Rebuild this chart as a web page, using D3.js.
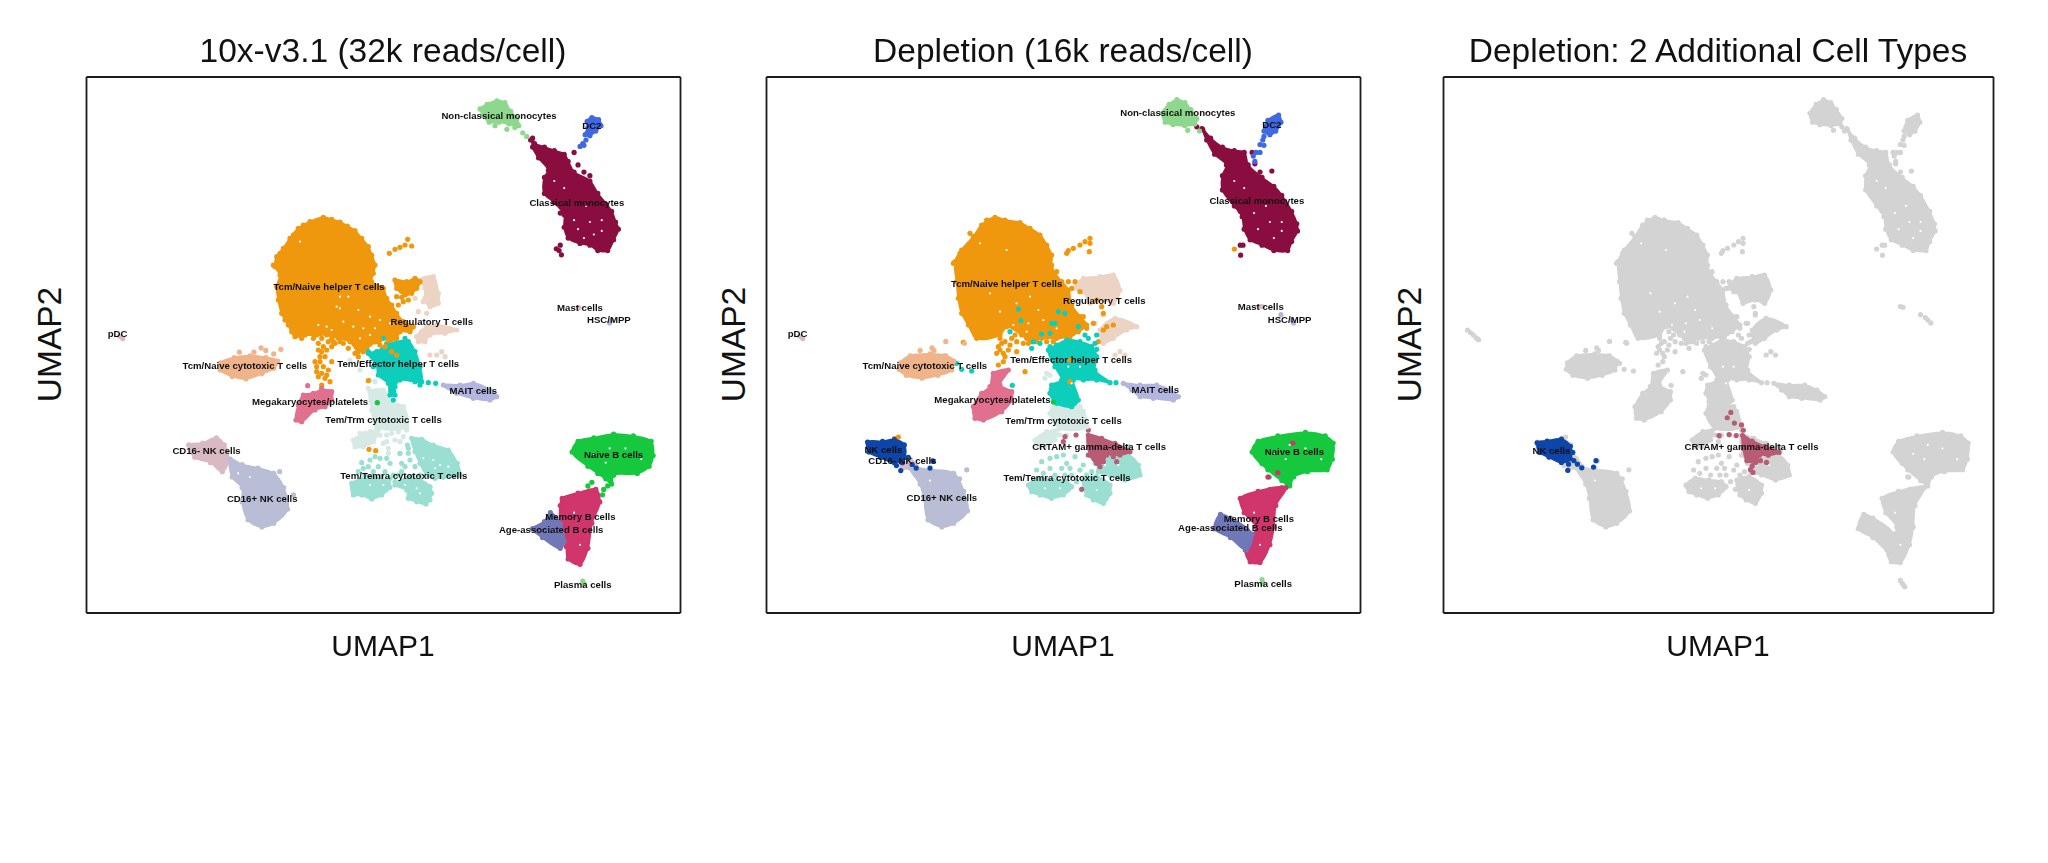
<!DOCTYPE html>
<html><head><meta charset="utf-8"><style>html,body{margin:0;padding:0;background:#fff}svg{display:block}</style>
<script src="https://cdn.jsdelivr.net/npm/d3@7"></script></head><body><svg id="c" width="2048" height="863"></svg>
<script>
// ---- data: embedding coordinates (cluster outlines, stray cells, gaps) ----
const titles=["10x-v3.1 (32k reads/cell)","Depletion (16k reads/cell)","Depletion: 2 Additional Cell Types"];
const xAxisLabel="UMAP1", yAxisLabel="UMAP2";
const colOrange="#f0980c",colMaroon="#8a0a40",colMint="#8ed88e",colBlue="#4169e1",colBlush="#ecd3c4",colPeach="#efb48a",colTeal="#10cdbb",colLav="#b2b6de",colPink="#e0708e",colPale="#d6e9e5",colAqua="#9adfd2",colRose="#d9bac2",colSlate="#b9bdd5",colGreen="#14c83c",colCrim="#d0346c",colIndigo="#7078b8",colNavy="#0a45a8",colMauve="#b85c74",colGray="#d3d3d3";

// ===== panel 1, central T-cell zone =====
const A1_orange=[[[190,22],[215,28],[240,36],[262,48],[285,62],[305,85],[325,110],[335,135],[345,165],[340,190],[335,215],[370,235],[380,265],[395,285],[410,310],[430,335],[460,350],[450,365],[420,365],[410,385],[385,395],[370,380],[345,395],[320,415],[295,425],[270,395],[235,385],[200,375],[170,375],[135,375],[105,380],[85,345],[65,310],[55,270],[50,230],[60,195],[45,170],[50,140],[70,115],[90,85],[115,55],[150,35]],
[[405,210],[440,215],[465,205],[480,215],[470,235],[455,250],[435,255],[410,235]]];
const A1_orangeDots=[[175,400],[205,395],[215,410],[185,425],[195,440],[180,455],[215,455],[170,485],[185,490],[195,505],[175,500],[210,515],[185,525],[205,480],[265,415],[250,400],[225,400],[295,440],[325,512],[443,88],[455,108],[435,105],[420,112],[405,118],[388,130],[430,275],[415,285],[360,405],[385,420],[410,440],[355,395],[380,400],[215,385],[240,395],[285,430],[310,425],[200,420],[175,420],[190,410],[170,470],[200,495],[220,395],[180,440],[190,470],[165,455],[410,260],[425,262],[445,270],[60,130],[40,165],[100,75],[130,45],[185,385],[160,385],[125,385],[95,365],[75,330]];
const A1_blush=[[[480,210],[520,200],[535,250],[535,280],[510,290],[495,265],[495,235]],[[470,380],[500,350],[530,345],[590,360],[555,370],[510,375],[495,395],[475,395]]];
const A1_blushDots=[[545,425],[530,435],[555,440],[510,435],[465,265],[490,275],[475,305],[500,310],[445,340],[485,365]];
const A1_teal=[[[325,430],[350,425],[380,405],[445,395],[465,425],[480,470],[485,515],[465,515],[420,510],[405,530],[405,555],[390,555],[385,520],[355,495],[350,465]]];
const A1_tealDots=[[505,518],[527,520],[480,525],[400,570],[345,430],[325,425],[370,385],[435,385],[340,470]];
const A1_orangeTop=[[395,425],[410,435],[375,410],[345,395],[360,390]];
const A1_lav=[[[550,525],[600,525],[640,520],[690,540],[710,560],[690,570],[640,565],[590,550]]];
const A1_pink=[[[130,555],[160,550],[185,540],[215,545],[215,570],[195,590],[165,600],[125,635],[108,630],[115,585]]];
const A1_pinkDots=[[143,527],[185,535]];
const A1_pale=[[[330,545],[370,540],[395,575],[430,590],[440,650],[350,650],[335,600]]];
const A1_paleDots=[[325,535],[330,510],[345,515],[270,450],[300,480]];
const A1_greenDots=[[352,578]];
const A1_holes=[[230,290],[240,295],[295,300],[330,320],[250,335],[200,350],[215,360],[360,330],[280,350],[310,355],[265,260],[175,345],[345,355],[120,95],[390,340],[240,260],[300,385],[330,375]];
const series_A1=[[colPale,A1_pale,A1_paleDots],[colBlush,A1_blush,A1_blushDots],[colOrange,A1_orange,A1_orangeDots],[colTeal,A1_teal,A1_tealDots],[colOrange,[],A1_orangeTop],[colLav,A1_lav,[]],[colPink,A1_pink,A1_pinkDots],[colGreen,[],A1_greenDots]];

// ===== panel 1, lower T-cell zone =====
const A3_pale=[[[100,120],[135,100],[175,90],[160,125],[130,140],[105,140]]];
const A3_paleDots=[[180,105],[200,105],[235,95],[260,90],[240,125],[200,125],[205,145],[240,160],[205,160],[225,120],[190,130],[215,100],[250,110],[120,100],[150,95]];
const A3_aqua=[[[95,250],[125,238],[165,235],[205,245],[210,262],[185,285],[155,297],[125,285],[100,285]],[[275,115],[305,118],[340,135],[385,150],[412,190],[420,225],[370,232],[345,235],[320,225],[300,190],[285,155]],[[225,255],[260,235],[300,240],[330,260],[335,280],[318,312],[290,305],[265,295],[260,270]]];
const A3_aquaDots=[[125,188],[150,180],[165,170],[180,175],[145,200],[175,200],[195,215],[220,225],[245,215],[265,160],[270,180],[240,160],[262,135],[210,190],[330,300],[115,215],[135,225],[130,205],[160,215],[185,230],[210,235],[235,225],[255,200],[265,145],[285,200],[275,230],[300,225],[200,175],[245,190],[155,230],[225,245]];
const A3_orangeDots=[[147,148],[167,152]];
const A3_holes=[[255,255],[290,265],[340,180],[310,175],[360,195],[345,205],[300,280],[150,255],[190,255],[385,200]];
const series_A3=[[colPale,A3_pale,A3_paleDots],[colAqua,A3_aqua,A3_aquaDots],[colOrange,[],A3_orangeDots]];

// ===== panel 1, remaining clusters =====
const A_maroon=[[[1145,190],[1150,205],[1175,215],[1200,225],[1225,235],[1235,255],[1250,285],[1290,310],[1310,345],[1345,395],[1355,425],[1362,445],[1350,475],[1335,505],[1310,505],[1290,490],[1265,485],[1235,470],[1225,440],[1225,405],[1200,370],[1175,345],[1175,300],[1185,280],[1160,245],[1145,215]]];
const A_maroonDots=[[1140,195],[1290,295],[1260,265],[1250,230],[1275,285],[1215,400],[1205,500],[1215,490],[1218,517],[1212,505],[1265,305],[1330,375]];
const A_mint=[[[1055,85],[1075,90],[1090,115],[1105,135],[1110,155],[1085,150],[1060,145],[1035,145],[1020,125],[1012,108],[1030,95]]];
const A_mintDots=[[1080,165],[1100,160],[1120,175],[1130,185],[1050,155]];
const A_blue=[[[1295,132],[1312,138],[1318,155],[1305,170],[1290,183],[1278,180],[1285,160],[1283,143]]];
const A_blueDots=[[1280,195],[1272,205],[1265,213],[1275,210]];
const A_peach=[[[355,820],[390,805],[430,800],[470,805],[500,815],[490,835],[460,850],[420,865],[385,858],[355,840]]];
const A_peachDots=[[403,790],[440,790],[458,778],[470,785],[508,782],[490,795]];
const A_rose=[[[275,1050],[310,1045],[345,1030],[365,1050],[375,1095],[360,1125],[330,1100],[290,1085]]];
const A_slate=[[[380,1090],[410,1105],[450,1115],[490,1130],[515,1170],[525,1230],[490,1270],[460,1280],[425,1260],[410,1210],[410,1170],[385,1140]]];
const A_slateDots=[[505,1125],[540,1190]];
const A_green=[[[1260,1040],[1300,1030],[1350,1020],[1400,1025],[1445,1040],[1450,1080],[1440,1110],[1410,1130],[1350,1135],[1345,1160],[1330,1145],[1310,1130],[1285,1110],[1245,1070]]];
const A_greenDots=[[1295,1155],[1285,1165],[1335,1165],[1325,1175],[1322,1190]];
const A_crim=[[[1220,1200],[1260,1185],[1305,1175],[1315,1210],[1295,1270],[1285,1340],[1265,1385],[1235,1370],[1230,1335],[1215,1270],[1215,1220]]];
const A_indigo=[[[1190,1240],[1215,1270],[1225,1320],[1215,1340],[1170,1310],[1145,1285],[1175,1265]]];
const A_tiny=[[colRose,[[100,745],[108,752]]],[colRose,[[1262,665]]],[colLav,[[1345,700],[1340,708]]],[colMint,[[1272,1432],[1275,1440]]]];
const A_holes=[[1290,425],[1320,420],[1260,445],[1300,460],[1250,420],[1225,330],[1200,310],[1280,380],[1320,450],[1275,470],[1330,1100],[1380,1060],[1340,1060],[1420,1090],[1300,1075],[430,1140],[400,1130],[1265,1330],[1250,1240]];
const seriesA=[[colMaroon,A_maroon,A_maroonDots],[colMint,A_mint,A_mintDots],[colBlue,A_blue,A_blueDots],[colPeach,A_peach,A_peachDots],[colRose,A_rose,[]],[colSlate,A_slate,A_slateDots],[colGreen,A_green,A_greenDots],[colCrim,A_crim,[]],[colIndigo,A_indigo,[]]];

// ===== panel 2, central T-cell zone =====
const B2_orange=[[[165,22],[195,30],[240,38],[270,55],[300,75],[320,105],[335,135],[335,165],[345,190],[365,215],[385,240],[395,285],[420,320],[440,345],[415,365],[390,380],[350,385],[305,385],[275,395],[245,375],[200,350],[180,375],[110,385],[85,345],[65,310],[55,265],[50,215],[45,155],[65,120],[100,80],[125,45]]];
const B2_orangeDots=[[180,385],[175,410],[205,420],[195,440],[175,465],[190,455],[230,425],[255,485],[250,400],[290,395],[185,400],[170,430],[430,320],[460,340],[440,355],[485,290],[490,310],[470,270],[500,350],[520,345],[490,360],[475,395],[400,370],[450,85],[450,100],[435,95],[420,105],[400,115],[385,122],[380,130],[448,125],[350,185],[345,205],[385,215],[405,215],[395,235],[420,245],[70,397],[215,385],[230,395],[265,400],[320,395],[340,395],[195,395],[210,405],[225,375],[260,385],[180,420],[190,430],[60,130],[40,160],[90,70],[140,30],[105,375]];
const B2_teal=[[[350,405],[380,390],[420,395],[455,410],[470,440],[465,480],[510,518],[470,510],[430,510],[400,510],[415,570],[395,590],[350,580],[330,550],[335,525],[365,510],[345,470],[325,420]]];
const B2_tealDots=[[235,297],[243,332],[210,365],[375,310],[355,305],[345,340],[335,340],[305,372],[330,370],[275,415],[280,395],[415,350],[470,375],[445,385],[465,400],[435,375],[470,418],[528,518],[300,400],[330,410],[345,570],[217,526],[12,438],[65,478],[95,483],[50,460]];
const B2_orangeTop=[[390,515],[390,450]];
const B2_blush=[[[430,205],[480,200],[520,195],[540,240],[520,280],[490,270],[450,280],[430,245],[400,235]],[[525,325],[590,350],[560,360],[520,385],[490,400],[480,360]]];
const B2_blushDots=[[540,425],[525,435],[555,435],[490,315],[465,340],[510,375],[260,375],[275,370]];
const B2_pink=[[[160,490],[205,480],[180,525],[215,545],[215,570],[185,605],[130,630],[105,625],[100,590],[125,550],[150,530]]];
const B2_lav=[[[550,520],[600,525],[650,525],[690,540],[715,560],[700,570],[640,565],[600,560],[575,540]]];
const B2_pale=[[[340,590],[380,585],[420,590],[440,650],[360,655],[330,610]]];
const B2_paleDots=[[320,490],[330,495],[315,505]];
const B2_greenDots=[[340,576]];
const B2_holes=[[120,100],[200,120],[270,260],[180,305],[220,345],[265,340],[310,330],[260,365],[295,300],[350,355],[230,280],[150,250],[395,520],[420,470],[385,470]];
const series_B2=[[colPale,B2_pale,B2_paleDots],[colBlush,B2_blush,B2_blushDots],[colOrange,B2_orange,B2_orangeDots],[colPink,B2_pink,[]],[colTeal,B2_teal,B2_tealDots],[colOrange,[],B2_orangeTop],[colLav,B2_lav,[]],[colGreen,[],B2_greenDots]];

// ===== panel 2, lower T-cell zone =====
const B4_pale=[[[105,120],[140,95],[170,92],[165,120],[135,140],[115,140]]];
const B4_paleDots=[[180,105],[200,105],[230,85],[205,40],[240,55],[235,85],[200,70],[180,30],[220,20],[215,60],[250,35]];
const B4_aqua=[[[85,255],[115,235],[160,240],[200,245],[215,260],[190,285],[155,295],[120,285],[95,275]],[[300,175],[345,165],[385,165],[415,195],[420,225],[375,240],[330,225],[295,215]],[[250,240],[290,230],[330,255],[330,280],[310,310],[280,300],[260,285]]];
const B4_aquaDots=[[110,210],[125,185],[150,175],[170,170],[190,165],[150,205],[185,205],[200,190],[215,225],[240,210],[225,170],[250,195],[130,220],[165,225],[195,225],[275,215],[260,225],[230,245],[210,205],[285,190],[270,140],[385,140]];
const B4_mauve=[[[265,105],[305,115],[345,130],[390,155],[360,165],[320,165],[310,185],[290,190],[270,165]]];
const B4_mauveDots=[[228,47],[240,60],[255,75],[265,90],[228,105],[195,110],[190,125],[265,165],[340,170],[350,185],[300,200],[245,268]];
const B4_tealDots=[[205,15],[225,18],[170,5],[185,5]];
const B4_holes=[[135,265],[180,265],[290,270],[355,195],[315,195]];
const series_B4=[[colPale,B4_pale,B4_paleDots],[colAqua,B4_aqua,B4_aquaDots],[colMauve,B4_mauve,B4_mauveDots],[colTeal,[],B4_tealDots]];

// ===== panel 2, remaining clusters =====
const B_maroon=[[[1120,165],[1140,190],[1170,215],[1200,225],[1225,230],[1235,265],[1270,300],[1300,325],[1320,350],[1345,395],[1358,430],[1360,450],[1345,480],[1335,505],[1300,505],[1270,490],[1240,475],[1225,445],[1220,410],[1200,380],[1170,335],[1170,295],[1180,265],[1150,235],[1130,195]]];
const B_maroonDots=[[1105,158],[1118,163],[1245,230],[1252,262],[1295,282],[1265,285],[1215,490],[1222,490],[1216,518],[1215,395]];
const B_orangeDots=[[350,1028],[340,1032],[1200,501]];
const B_mint=[[[1055,82],[1075,90],[1090,110],[1105,135],[1100,150],[1075,155],[1045,152],[1025,145],[1018,120],[1035,95]]];
const B_mintDots=[[1082,168],[1112,170]];
const B_blue=[[[1312,125],[1318,145],[1305,170],[1290,180],[1275,170],[1285,140]]];
const B_blueDots=[[1275,185],[1272,195],[1265,208],[1275,210],[1255,230],[1265,230],[1248,240],[1252,255]];
const B_peach=[[[355,820],[380,800],[430,795],[470,800],[490,815],[485,840],[450,855],[410,863],[370,855],[352,838]]];
const B_peachDots=[[405,785],[440,785],[470,760],[517,765],[435,778]];
const B_rose=[[[345,1085],[380,1090],[395,1110],[360,1115]]];
const B_slate=[[[380,1115],[430,1120],[490,1130],[515,1180],[525,1235],[490,1270],[460,1280],[425,1260],[415,1200],[405,1160]]];
const B_slateDots=[[523,1120],[505,1145]];
const B_green=[[[1260,1040],[1310,1025],[1380,1015],[1430,1025],[1450,1045],[1448,1090],[1435,1120],[1385,1125],[1350,1140],[1340,1165],[1320,1150],[1285,1120],[1245,1070]]];
const B_greenDots=[[1270,1102],[1288,1140],[1290,1175],[1320,1170],[1295,1183]];
const B_crim=[[[1215,1200],[1260,1180],[1330,1170],[1305,1220],[1300,1280],[1290,1330],[1265,1380],[1240,1378],[1228,1345],[1245,1310],[1255,1280],[1225,1240]]];
const B_crimDots=[[1348,1045],[1310,1128],[1285,1140]];
const B_indigo=[[[1165,1245],[1190,1255],[1245,1300],[1230,1345],[1190,1310],[1150,1285]]];
const B_navy=[[[272,1042],[310,1040],[340,1035],[365,1050],[365,1085],[340,1100],[305,1085],[275,1070]]];
const B_navyDots=[[375,1085],[360,1100],[345,1108],[385,1105],[356,1122],[395,1115],[430,1115],[437,1095]];
const B_tiny=[[colRose,[[100,745],[108,752]]],[colRose,[[1262,662],[1270,662]]],[colLav,[[1318,685],[1345,700],[1350,708]]],[colMint,[[1270,1428],[1273,1438]]]];
const B_grayExtra=[[82,728],[90,735],[98,742],[106,750],[112,755],[1265,662],[1272,664],[1320,685],[1333,693],[1340,700],[1348,708],[1265,1430],[1270,1438],[1277,1448],[1273,1443]];
const B_holes=[[1290,425],[1320,425],[1260,445],[1300,470],[1250,400],[1225,330],[1200,310],[1280,380],[1320,450],[1330,1090],[1380,1060],[1340,1050],[1420,1090],[1300,1075],[430,1150],[1265,1330],[1250,1240]];
const seriesB=[[colMaroon,B_maroon,B_maroonDots],[colOrange,[],B_orangeDots],[colMint,B_mint,B_mintDots],[colBlue,B_blue,B_blueDots],[colPeach,B_peach,B_peachDots],[colRose,B_rose,[]],[colSlate,B_slate,B_slateDots],[colGreen,B_green,B_greenDots],[colCrim,B_crim,B_crimDots],[colIndigo,B_indigo,[]],[colNavy,B_navy,B_navyDots]];

// ===== panel 3 highlights =====
const C_navy=[[[272,1045],[300,1040],[340,1035],[365,1055],[365,1090],[340,1100],[305,1085],[280,1072]]];
const C_navyDots=[[372,1072],[375,1095],[360,1105],[385,1105],[358,1122],[397,1115],[430,1113],[437,1095]];
const C_mauve=[[[848,1025],[875,1040],[910,1055],[950,1072],[920,1080],[895,1080],[885,1100],[860,1095],[850,1060]]];
const C_mauveDots=[[815,960],[805,975],[825,990],[845,995],[850,1010],[810,1022],[782,1025],[830,1025],[875,1110],[915,1100],[877,1128],[870,1120],[898,1095]];
const seriesC=[[colNavy,C_navy,C_navyDots],[colMauve,C_mauve,C_mauveDots]];

// labels
const A_labels=["Non-classical monocytes","DC2","Classical monocytes","Tcm/Naive helper T cells","Regulatory T cells","Mast cells","HSC/MPP","pDC","Tcm/Naive cytotoxic T cells","Tem/Effector helper T cells","MAIT cells","Megakaryocytes/platelets","Tem/Trm cytotoxic T cells","CD16- NK cells","Naive B cells","Tem/Temra cytotoxic T cells","CD16+ NK cells","Memory B cells","Age-associated B cells","Plasma cells"];
const A_labelPos=[[1060,127],[1295,155],[1257,370],[630,605],[890,703],[1265,665],[1338,700],[95,738],[417,829],[805,823],[995,898],[582,929],[768,978],[320,1067],[1350,1076],[819,1136],[461,1201],[1266,1252],[1192,1287],[1272,1442]];
const B_labels=["Non-classical monocytes","DC2","Classical monocytes","Tcm/Naive helper T cells","Regulatory T cells","Mast cells","HSC/MPP","pDC","Tcm/Naive cytotoxic T cells","Tem/Effector helper T cells","MAIT cells","Megakaryocytes/platelets","Tem/Trm cytotoxic T cells","CRTAM+ gamma-delta T cells","NK cells","CD16- NK cells","Naive B cells","Tem/Temra cytotoxic T cells","CD16+ NK cells","Memory B cells","Age-associated B cells","Plasma cells"];
const B_labelPos=[[1057,117],[1295,152],[1257,365],[624,597],[871,646],[1267,661],[1340,698],[95,738],[417,828],[787,811],[1000,896],[588,924],[768,983],[858,1054],[312,1064],[360,1095],[1352,1069],[777,1141],[460,1198],[1262,1257],[1190,1283],[1273,1440]];
const C_labels=["NK cells","CRTAM+ gamma-delta T cells"];
const C_labelPos=[[312,1066],[873,1056]];

// ---- layout ----
const panels=[{l:86,r:680,t:76.5,b:612.5,ylab:49},{l:766,r:1360,t:76.5,b:612.5,ylab:733},{l:1443,r:1993,t:76.5,b:612.5,ylab:1409}];
const dotR=2.6, holeR=1.1, titleSize=33.5, xLabSize=30, yLabSize=33.5, labelSize=9.6;
const svg=d3.select("#c");
svg.append("defs").append("filter").attr("id","soft").append("feGaussianBlur").attr("stdDeviation",0.55);
const font='"Liberation Sans",Arial,sans-serif';

function drawSeries(g,series,x,y,override){
  const line=d3.line().x(d=>x(d[0])).y(d=>y(d[1])).curve(d3.curveCatmullRomClosed.alpha(0.5));
  series.forEach(([col,blobs,dots])=>{
    const c=override||col;
    g.append("g").selectAll("path").data(blobs).join("path").attr("d",line).attr("fill",c).attr("stroke",c).attr("stroke-width",2).attr("stroke-linejoin","round");
    const pts=blobs.flat().concat(dots);
    g.append("g").selectAll("circle").data(pts).join("circle").attr("cx",d=>x(d[0])).attr("cy",d=>y(d[1])).attr("r",dotR).attr("fill",c);
  });
}
function drawPts(g,pts,x,y,c,r){
  g.append("g").selectAll("circle").data(pts).join("circle").attr("cx",d=>x(d[0])).attr("cy",d=>y(d[1])).attr("r",r).attr("fill",c);
}
function labels(g,names,pos,x,y){
  g.append("g").attr("filter","url(#soft)").selectAll("text").data(names).join("text").attr("x",(d,i)=>x(pos[i][0])).attr("y",(d,i)=>y(pos[i][1])).attr("dy","0.35em")
   .attr("text-anchor","middle").attr("font-family",font).attr("font-weight","700").attr("font-size",labelSize).attr("fill","#111").text(d=>d);
}
// crop-based readings: scale from reading units onto panel pixels
const p2toP3=d3.scaleLinear().domain([766,1360]).range([1443,1993]);
function cropX(x0,w,toP3){const s=d3.scaleLinear().domain([0,w*3]).range([x0,x0+w]);return toP3?(v=>p2toP3(s(v))):s;}
function cropY(y0,h){return d3.scaleLinear().domain([0,h*3]).range([y0,y0+h]);}

panels.forEach((p,i)=>{
  const xDom=i==2?[8,1550]:[15,1518], yDom=i==2?[20,1520]:[17,1520];
  const x=d3.scaleLinear().domain(xDom).range([p.l,p.r]);
  const y=d3.scaleLinear().domain(yDom).range([p.t,p.b]);
  const marks=svg.append("g").attr("filter","url(#soft)");
  if(i==0){
    const x3=cropX(320,180),y3=cropY(400,130),x1=cropX(260,260),y1=cropY(210,220);
    drawSeries(marks,series_A3,x3,y3);
    drawPts(marks,A3_holes,x3,y3,"#fff",holeR);
    drawSeries(marks,series_A1,x1,y1);
    drawPts(marks,A1_holes,x1,y1,"#fff",holeR);
    drawSeries(marks,seriesA,x,y);
    drawPts(marks,A_holes,x,y,"#fff",holeR);
    A_tiny.forEach(([c,pts])=>drawPts(marks,pts,x,y,c,dotR));
    labels(svg,A_labels,A_labelPos,x,y);
  } else {
    const gray=i==2?colGray:null;
    const x4=cropX(1000,180,i==2),y4=cropY(400,130),x2=cropX(940,260,i==2),y2=cropY(210,220);
    const xb=d3.scaleLinear().domain([15,1518]).range([p.l,p.r]);
    const yb=d3.scaleLinear().domain([17,1520]).range([p.t,p.b]);
    drawSeries(marks,series_B4,x4,y4,gray);
    drawPts(marks,B4_holes,x4,y4,"#fff",holeR);
    drawSeries(marks,series_B2,x2,y2,gray);
    drawPts(marks,B2_holes,x2,y2,"#fff",holeR);
    drawSeries(marks,seriesB,xb,yb,gray);
    drawPts(marks,B_holes,xb,yb,"#fff",holeR);
    if(i==1){
      B_tiny.forEach(([c,pts])=>drawPts(marks,pts,xb,yb,c,dotR));
      labels(svg,B_labels,B_labelPos,x,y);
    } else {
      drawPts(marks,B_grayExtra,xb,yb,colGray,dotR);
      drawSeries(marks,seriesC,x,y);
      labels(svg,C_labels,C_labelPos,x,y);
    }
  }
  // frame: four empty axes
  const frame=svg.append("g").attr("filter","url(#soft)");
  [[d3.axisBottom(x),0,p.b],[d3.axisTop(x),0,p.t],[d3.axisLeft(y),p.l,0],[d3.axisRight(y),p.r,0]].forEach(([a,tx,ty])=>{
    const ag=frame.append("g").attr("transform",`translate(${tx},${ty})`).call(a.tickValues([]).tickSizeOuter(0));
    ag.select(".domain").attr("stroke","#1a1a1a").attr("stroke-width",1.8);
  });
  const cx=(p.l+p.r)/2, cy=(p.t+p.b)/2;
  svg.append("text").attr("x",cx).attr("y",62).attr("text-anchor","middle").attr("font-family",font).attr("font-size",titleSize).attr("fill","#111").text(titles[i]);
  svg.append("text").attr("x",cx).attr("y",656).attr("text-anchor","middle").attr("font-family",font).attr("font-size",xLabSize).attr("fill","#111").text(xAxisLabel);
  svg.append("text").attr("transform",`translate(${p.ylab},${cy}) rotate(-90)`).attr("text-anchor","middle").attr("dy","0.35em").attr("font-family",font).attr("font-size",yLabSize).attr("fill","#111").text(yAxisLabel);
});
</script></body></html>
